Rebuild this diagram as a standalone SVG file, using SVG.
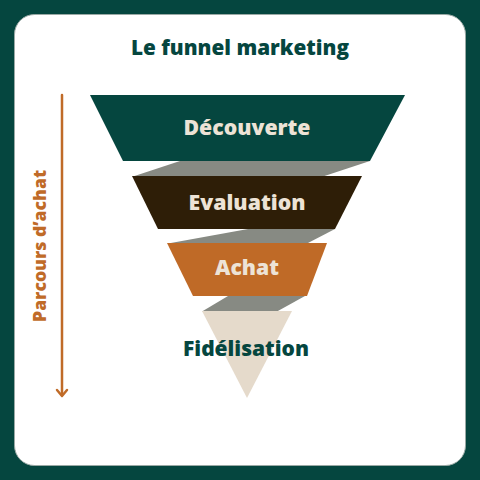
<svg xmlns="http://www.w3.org/2000/svg" width="480" height="480" viewBox="0 0 480 480">
<defs>
<style>
.lbl{font-family:"Open Sans","Noto Sans",sans-serif;font-weight:800;text-anchor:middle}
.light{fill:#EDE3D6;font-size:21px}
.gray{fill:#878A83}
.arr{fill:none;stroke:#C06B28;stroke-width:2.5;stroke-linecap:round;stroke-linejoin:round}
</style>
</defs>
<rect x="0" y="0" width="480" height="480" fill="#05463F"/>
<rect x="14.5" y="14.5" width="451" height="451" rx="20" fill="#FFFFFF" stroke="#9AA9A5" stroke-width="1"/>
<text class="lbl" x="240" y="55" font-size="21" fill="#05463F" textLength="218" lengthAdjust="spacingAndGlyphs">Le funnel marketing</text>
<g id="connectors">
<polygon class="gray" points="180,161 370,161 323,176.5 133,176.5"/>
<polygon class="gray" points="248,229 335,229 307,243.5 168,243.5"/>
<polygon class="gray" points="228,296 305,296 277,311.5 202,311.5"/>
<line class="arr" x1="62" y1="95" x2="62" y2="395"/>
<path class="arr" d="M57,390 L62,396 L67,390"/>
</g>
<g id="decouverte">
<polygon points="90,95 405,95 370,161 123,161" fill="#05463F"/>
<text class="lbl light" x="247" y="135" textLength="127" lengthAdjust="spacingAndGlyphs">Découverte</text>
</g>
<g id="evaluation">
<polygon points="132,176 362,176 335,229 158,229" fill="#2E1E07"/>
<text class="lbl light" x="247" y="210" textLength="117" lengthAdjust="spacingAndGlyphs">Evaluation</text>
</g>
<g id="achat">
<polygon points="167,243 327,243 307,296 193,296" fill="#BF6A27"/>
<text class="lbl light" x="247" y="275" textLength="64" lengthAdjust="spacingAndGlyphs">Achat</text>
</g>
<g id="fidelisation">
<polygon points="202,311 292,311 247,398" fill="#E5DACB"/>
<text class="lbl" x="246" y="356" font-size="21" fill="#05463F" textLength="126" lengthAdjust="spacingAndGlyphs">Fidélisation</text>
</g>
<g id="parcours">
<text class="lbl" transform="translate(46,246) rotate(-90)" font-size="17" fill="#C06B28" textLength="152" lengthAdjust="spacingAndGlyphs">Parcours d’achat</text>
</g>
</svg>
